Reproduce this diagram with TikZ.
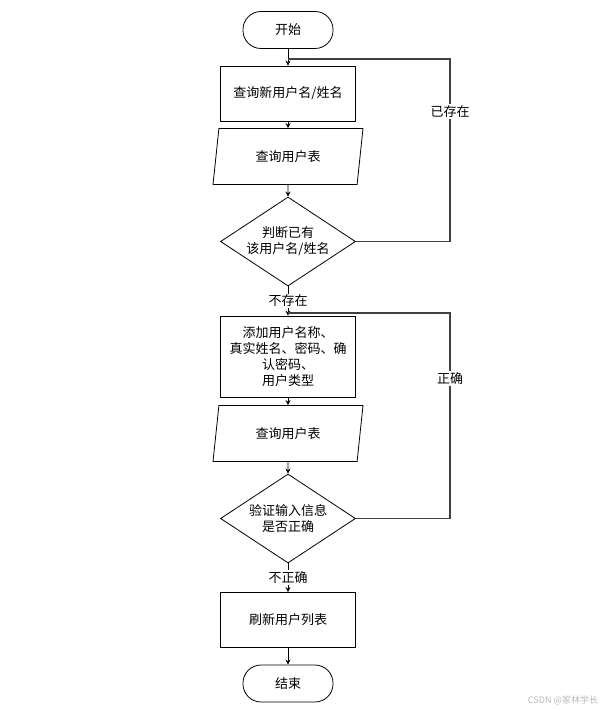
\documentclass[tikz,border=0pt]{standalone}
\usepackage{fontspec}
\setmainfont{Noto Sans CJK SC}
\usetikzlibrary{shapes.geometric,arrows.meta}

\begin{document}
\begin{tikzpicture}[x=1pt,y=1pt,
        font=\fontsize{13}{16}\selectfont,
        every node/.style={inner sep=0pt,align=center},
        term/.style={draw=black,line width=0.8pt,rounded corners=18pt,minimum width=90pt,minimum height=37pt},
        proc/.style={draw=black,line width=0.8pt,minimum width=135pt,minimum height=55pt},
        io/.style={draw=black,line width=0.8pt,trapezium,trapezium left angle=64,trapezium right angle=116,
                trapezium stretches body,minimum width=150pt,minimum height=56pt},
        decide/.style={draw=black,line width=0.8pt,diamond,aspect=1.5,minimum width=135pt,minimum height=89pt},
        lbl/.style={fill=white,inner sep=1.5pt},
        arr/.style={draw=black,line width=0.8pt,-{Stealth[length=5pt,width=5pt]}},
        back/.style={draw=black!75,line width=1.1pt}]
        \useasboundingbox (0,0) rectangle (615,-711);
        % nodes
        \node [term] (start) at (288,-30) {开始};
        \node [proc] (query) at (288,-93.5) {查询新用户名/姓名};
        \node [io] (table1) at (288,-156.5) {查询用户表};
        \node [decide] (check) at (288,-241.5) {判断已有\\该用户名/姓名};
        \node [proc,minimum height=81pt] (add) at (288,-356.5) {添加用户名称、\\真实姓名、密码、确\\认密码、\\用户类型};
        \node [io] (table2) at (288,-433.5) {查询用户表};
        \node [decide] (verify) at (288,-518.5) {验证输入信息\\是否正确};
        \node [proc] (refresh) at (288,-620) {刷新用户列表};
        \node [term] (stop) at (288,-683.5) {结束};
        \node [text=gray!55,font=\fontsize{9}{10}\selectfont] (mark) at (563,-700) {CSDN @冢林学长};
        % main flow
        \draw [arr] (start) -- (query);
        \draw [arr] (query) -- (table1);
        \draw [arr] (table1) -- (check);
        \draw [arr] (check) -- node [lbl] {不存在} (add);
        \draw [arr] (add) -- (table2);
        \draw [arr] (table2) -- (verify);
        \draw [arr] (verify) -- node [lbl] {不正确} (refresh);
        \draw [arr] (refresh) -- (stop);
        % loops back
        \coordinate (top1) at (450,-59);
        \coordinate (join1) at (288,-59);
        \draw [back] (check.east) -- (check.east -| top1) -- node [lbl,pos=0.71] {已存在} (top1) -- (join1);
        \coordinate (top2) at (450,-313);
        \coordinate (join2) at (288,-313);
        \draw [back] (verify.east) -- (verify.east -| top2) -- node [lbl,pos=0.68] {正确} (top2) -- (join2);
\end{tikzpicture}
\end{document}
